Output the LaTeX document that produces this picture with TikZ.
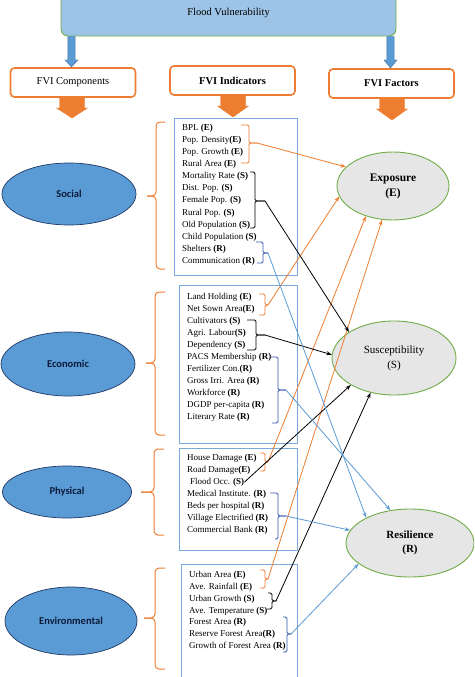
\documentclass[tikz,border=0pt]{standalone}
\usepackage{fontspec}
\setmainfont{Liberation Serif}
\newfontfamily\calib{Carlito}
\usetikzlibrary{arrows.meta,shapes.geometric}
\definecolor{ora}{HTML}{ED7D31}
\definecolor{blu}{HTML}{5B9BD5}
\definecolor{bluedge}{HTML}{41719C}
\definecolor{gre}{HTML}{70AD47}
\definecolor{topfill}{HTML}{9DC3E6}
\definecolor{gfill}{HTML}{E7E6E6}
\definecolor{navyb}{HTML}{1F3864}
\definecolor{navyt}{HTML}{0B1B3A}
\definecolor{iboxc}{HTML}{7AAAD9}
\definecolor{rbrk}{HTML}{3558AE}
\newcommand\blockarr[8]{%
  \filldraw[fill=#1,draw=#2,line width=0.4pt] (#3-#4,#5) -- (#3+#4,#5) -- (#3+#4,#7) -- (#3+#6,#7) -- (#3,#8) -- (#3-#6,#7) -- (#3-#4,#7) -- cycle;}
\newcommand\bigbrace[6]{%
  \draw[obrace] (#3,#4) -- (#2,#4) -- (#2,#6) -- (#1,#6);
  \draw[obrace] (#3,#5) -- (#2,#5) -- (#2,#6) -- (#1,#6);}
\newcommand\smbrk[9]{%
  \draw[#1,line width=0.9pt,rounded corners=1.5pt] (#2,#5) -- (#4,#5) -- (#4,#8) -- (#7,#8);
  \draw[#1,line width=0.9pt,rounded corners=1.5pt] (#3,#6) -- (#4,#6) -- (#4,#8) -- (#7,#8);
  \coordinate (#9) at (#7,#8);}
\tikzset{
  ibox/.style={draw=iboxc,line width=0.8pt},
  itext/.style={anchor=base west,inner sep=0pt,font=\fontsize{9}{10}\selectfont},
  hbox/.style={draw=ora,line width=1.6pt,rounded corners=4pt,fill=white,minimum width=125pt,minimum height=29pt,inner sep=0pt,font=\fontsize{10.5}{12}\selectfont},
  comp/.style={ellipse,draw=navyb,line width=0.7pt,fill=blu,inner sep=0pt,text=navyt,font=\calib\bfseries\fontsize{10.5}{12}\selectfont},
  fac/.style={ellipse,draw=gre,line width=0.9pt,fill=gfill,inner sep=0pt,align=center},
  obrace/.style={draw=ora,line width=1pt,rounded corners=4pt},
  eline/.style={draw=ora,line width=0.8pt,-{Stealth[length=5.5pt,width=4pt]}},
  sline/.style={draw=black,line width=0.8pt,-{Stealth[length=5.5pt,width=4pt]}},
  rline/.style={draw=blu,line width=0.8pt,-{Stealth[length=5.5pt,width=4pt]}},
}
\begin{document}
\begin{tikzpicture}[x=1pt,y=-1pt]
\useasboundingbox (0,0) rectangle (474,677);
\clip (0,0) rectangle (474,677);
\fill[white] (0,0) rectangle (474,677);
% top box
\node[draw=gre,line width=0.9pt,fill=topfill,rounded corners=7pt,minimum width=335pt,minimum height=46pt,inner sep=0pt,font=\fontsize{10.5}{12}\selectfont] (fv) at (228.5,13) {\raisebox{-5pt}{Flood Vulnerability}};
% header boxes
\node[hbox] (comp) at (73,82.5) {FVI Components};
\node[hbox,font=\bfseries\fontsize{10.5}{12}\selectfont] (indi) at (232.5,80.5) {FVI Indicators};
\node[hbox,font=\bfseries\fontsize{10.5}{12}\selectfont] (fact) at (391.5,83.5) {FVI Factors};
% blue block arrows
\blockarr{blu}{bluedge}{71.5}{3.7}{36.5}{6.5}{60}{67}
\blockarr{blu}{bluedge}{390.5}{3.7}{36.5}{6.5}{60}{68}
% orange block arrows
\blockarr{ora}{ora}{72}{12.5}{98}{15.5}{108}{118}
\blockarr{ora}{ora}{233}{12.5}{96}{15.5}{106}{117}
\blockarr{ora}{ora}{392}{12.5}{99}{15.5}{109}{120}
% component ellipses
\node[comp,minimum width=134pt,minimum height=62pt] (social) at (69,194) {Social};
\node[comp,minimum width=134pt,minimum height=64pt] (econ) at (68,364) {Economic};
\node[comp,minimum width=129pt,minimum height=52pt] (phys) at (67,492) {Physical};
\node[comp,minimum width=132pt,minimum height=68pt] (envi) at (71,621) {Environmental};
% big braces
\bigbrace{147}{156}{165}{122}{269}{196}
\bigbrace{146}{155}{165}{292}{435}{363}
\bigbrace{141}{154}{164}{449}{535}{492}
\bigbrace{144}{155}{165}{568}{669}{618}
% indicator boxes
\draw[ibox] (174,118) rectangle (297,275);
\draw[ibox] (179,285) rectangle (297,443);
\draw[ibox] (179,448) rectangle (297,550);
\draw[ibox] (181,564) rectangle (297,690);
% indicator texts
\foreach \t [count=\i] in {BPL \textbf{(E)},Pop. Density\textbf{(E)},Pop. Growth \textbf{(E)},Rural Area \textbf{(E)},Mortality Rate \textbf{(S)},Dist. Pop. \textbf{(S)},Female Pop. \textbf{(S)},Rural Pop. \textbf{(S)},Old Population \textbf{(S)},Child Population \textbf{(S)},Shelters \textbf{(R)},Communication \textbf{(R)}}
  \node[itext] (so\i) at (182,118.2+12.1*\i) {\t};
\foreach \t [count=\i] in {Land Holding \textbf{(E)},Net Sown Area\textbf{(E)},Cultivators \textbf{(S)},Agri. Labour\textbf{(S)},Dependency \textbf{(S)},PACS Membership \textbf{(R)},Fertilizer Con.\textbf{(R)},Gross Irri. Area \textbf{(R)},Workforce \textbf{(R)},DGDP per-capita \textbf{(R)},Literary Rate \textbf{(R)}}
  \node[itext] (ec\i) at (187,287.7+12*\i) {\t};
\foreach \t [count=\i] in {House Damage \textbf{(E)},Road Damage\textbf{(E)},\hspace*{3pt}Flood Occ. \textbf{(S)},Medical Institute. \textbf{(R)},Beds per hospital \textbf{(R)},Village Electrified \textbf{(R)},Commercial Bank \textbf{(R)}}
  \node[itext] (ph\i) at (187,448.3+12*\i) {\t};
\foreach \t [count=\i] in {Urban Area \textbf{(E)},Ave. Rainfall \textbf{(E)},Urban Growth \textbf{(S)},Ave. Temperature \textbf{(S)},Forest Area \textbf{(R)},Reserve Forest Area\textbf{(R)},Growth of Forest Area \textbf{(R)}}
  \node[itext] (en\i) at (189,565.4+11.9*\i) {\t};
% small brackets
\smbrk{ora}{241}{241}{249}{125}{163}{257}{143}{socE}
\smbrk{black}{250}{250}{255}{172}{228}{265}{201}{socS}
\smbrk{rbrk}{256}{257}{263}{242}{263}{268}{253}{socR}
\smbrk{ora}{259}{259}{265}{294}{315}{268}{305}{ecoE}
\smbrk{black}{247}{247}{256}{320}{350}{265}{335}{ecoS}
\smbrk{rbrk}{270}{272}{278}{357}{423}{286}{390}{ecoR}
\smbrk{ora}{260}{260}{265}{453}{471}{268}{462}{phyE}
\smbrk{rbrk}{270}{275}{278}{493}{539}{286}{516}{phyR}
\smbrk{ora}{260}{260}{265}{570}{588}{268}{579}{envE}
\smbrk{black}{268}{267}{272}{593}{609}{276}{601}{envS}
\smbrk{rbrk}{283}{283}{287}{617}{652}{291}{634}{envR}
% factor ellipses
\node[fac,minimum width=112pt,minimum height=68pt,font=\bfseries\fontsize{11.5}{15}\selectfont] (expo) at (393,186) {Exposure\\(E)};
\node[fac,minimum width=124pt,minimum height=74pt,font=\fontsize{11}{15}\selectfont] (susc) at (394,358) {Susceptibility\\(S)};
\node[fac,minimum width=128pt,minimum height=68pt,font=\bfseries\fontsize{11}{14}\selectfont] (resil) at (410,543) {Resilience\\(R)};
% connectors
\draw[eline] (socE) -- (expo.158);
\draw[eline] (ecoE) -- (expo.191);
\draw[eline] (phyE) -- (expo.228);
\draw[eline] (envE) -- (expo.252);
\draw[sline] (socS) -- (susc.150);
\draw[sline] (ecoS) -- (susc.177);
\draw[sline] (ph3.east) -- (susc.212);
\draw[sline] (envS) -- (susc.236);
\draw[rline] (socR) -- (resil.150);
\draw[rline] (ecoR) -- (resil.121);
\draw[rline] (phyR) -- (resil.168);
\draw[rline] (envR) -- (resil.202);
\end{tikzpicture}
\end{document}
